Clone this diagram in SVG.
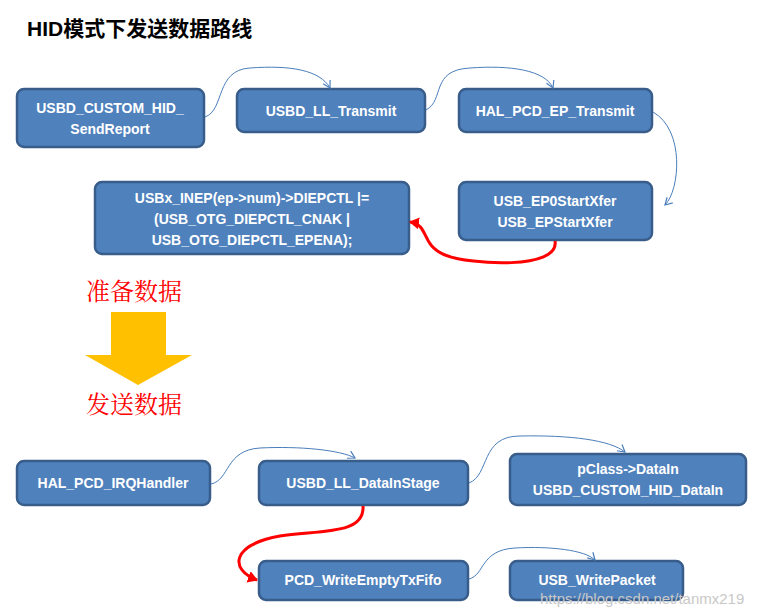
<svg xmlns="http://www.w3.org/2000/svg" width="764" height="615" viewBox="0 0 764 615">
<defs>
<style>
.n rect{fill:#4f81bd;stroke:#385d8a;stroke-width:2.5}
.n text{fill:#fff;font:bold 14px "Liberation Sans","Noto Sans CJK SC",sans-serif;text-anchor:middle}
.b{fill:none;stroke:#4a7ebb;stroke-width:1}
.r{fill:none;stroke:#ff0000;stroke-width:3}
.cn{fill:#ff0000;font:24px "Noto Serif CJK SC","Noto Sans CJK SC",serif}
</style>
<marker id="ab" markerWidth="10" markerHeight="10" refX="8" refY="5" orient="auto" markerUnits="userSpaceOnUse"><path d="M1,1 L8,5 L1,9" fill="none" stroke="#4a7ebb" stroke-width="1.2"/></marker>
<marker id="ar" markerWidth="12" markerHeight="12" refX="9" refY="6" orient="auto" markerUnits="userSpaceOnUse"><path d="M0,0 L10,6 L0,12 Z" fill="#ff0000"/></marker>
</defs>
<rect width="764" height="615" fill="#fff"/>
<text x="27" y="36" font-family="'Liberation Sans','Noto Sans CJK SC',sans-serif" font-weight="bold" font-size="21" fill="#000">HID模式下发送数据路线</text>
<g id="n1" class="n"><rect x="17" y="89" width="187" height="58" rx="7"/><text x="110" y="113">USBD_CUSTOM_HID_</text><text x="110" y="134">SendReport</text></g>
<g id="n2" class="n"><rect x="237" y="89" width="188" height="43" rx="7"/><text x="331" y="116">USBD_LL_Transmit</text></g>
<g id="n3" class="n"><rect x="459" y="89" width="193" height="43" rx="7"/><text x="555" y="116">HAL_PCD_EP_Transmit</text></g>
<g id="n4" class="n"><rect x="459" y="182" width="193" height="58" rx="7"/><text x="555" y="206">USB_EP0StartXfer</text><text x="555" y="227">USB_EPStartXfer</text></g>
<g id="n5" class="n"><rect x="95" y="182" width="314" height="72" rx="7"/><text x="252" y="203">USBx_INEP(ep-&gt;num)-&gt;DIEPCTL  |=</text><text x="252" y="224">(USB_OTG_DIEPCTL_CNAK  |</text><text x="252" y="245">USB_OTG_DIEPCTL_EPENA);</text></g>
<g id="n6" class="n"><rect x="17" y="461" width="193" height="44" rx="7"/><text x="113" y="488">HAL_PCD_IRQHandler</text></g>
<g id="n7" class="n"><rect x="259" y="461" width="209" height="44" rx="7"/><text x="363" y="488">USBD_LL_DataInStage</text></g>
<g id="n8" class="n"><rect x="510" y="454" width="236" height="51" rx="7"/><text x="628" y="474">pClass-&gt;DataIn</text><text x="628" y="495">USBD_CUSTOM_HID_DataIn</text></g>
<g id="n9" class="n"><rect x="259" y="561" width="209" height="39" rx="7"/><text x="363" y="585">PCD_WriteEmptyTxFifo</text></g>
<g id="n10" class="n"><rect x="510" y="561" width="173" height="39" rx="7"/><text x="597" y="585">USB_WritePacket</text></g>
<g id="mid">
<text class="cn" x="86" y="300">准备数据</text>
<path d="M111,312 H166 V355 H192 L138,385 L85,355 H111 Z" fill="#ffc000"/>
<text class="cn" x="86" y="413">发送数据</text>
</g>
<g id="connectors">
<path class="b" d="M205,117 C225,110 215,70 250,68 C290,65 320,70 330,88" marker-end="url(#ab)"/>
<path class="b" d="M426,110 C445,100 430,70 470,68 C510,65 545,70 553,88" marker-end="url(#ab)"/>
<path class="b" d="M653,112 C685,130 680,190 665,205" marker-end="url(#ab)"/>
<path class="r" d="M555,241 C560,270 470,265 445,255 C420,245 430,225 410,222" marker-end="url(#ar)"/>
<path class="b" d="M211,484 C230,480 225,450 260,448 C300,446 340,450 355,458" marker-end="url(#ab)"/>
<path class="b" d="M469,483 C490,475 480,436 520,436 C570,435 610,440 625,452" marker-end="url(#ab)"/>
<path class="r" d="M363,506 C365,535 320,530 280,536 C230,545 230,570 257,580" marker-end="url(#ar)"/>
<path class="b" d="M469,579 C485,575 480,550 515,548 C550,546 585,550 595,560" marker-end="url(#ab)"/>
</g>
<text x="540" y="604" font-family="'Liberation Sans',sans-serif" font-size="15" fill="#c8c8c8">https://blog.csdn.net/tanmx219</text>
</svg>
